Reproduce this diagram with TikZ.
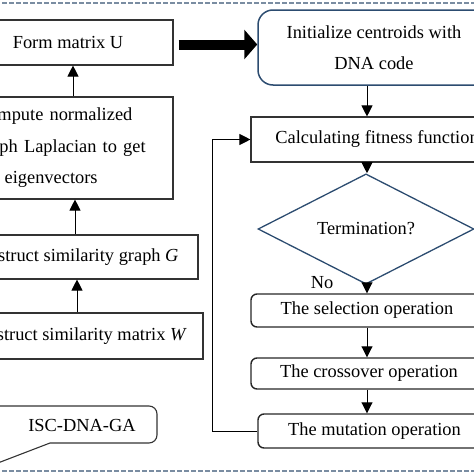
\documentclass[tikz,border=0pt]{standalone}
\usepackage{fontspec}
\setmainfont{Liberation Serif}
\usetikzlibrary{arrows.meta,shapes.geometric}
\definecolor{framegray}{HTML}{333333}
\definecolor{stepblue}{HTML}{2C4C70}
\definecolor{rulegray}{HTML}{7A8DA2}

\begin{document}
\begin{tikzpicture}[x=1pt,y=-1pt,
    font=\fontsize{18.4}{31.5}\selectfont,
    box/.style={draw=framegray,line width=1.1pt,inner sep=0pt,align=center},
    opbox/.style={draw=black!85,line width=1.4pt,rounded corners=6pt,inner sep=0pt},
    flow/.style={-{Triangle[width=11pt,length=11pt]},line width=0.9pt},
    bigarrow/.style={line width=10pt,-{Triangle[width=29pt,length=13pt]}}]
  \useasboundingbox (0,0) rectangle (474,474);
  \clip (0,0) rectangle (474,474);
  % dashed frame lines
  \draw[rulegray,line width=2.6pt,dash pattern=on 5pt off 2pt]
    (-5,3) -- (480,3) (-5,471) -- (480,471);
  % left column
  \node[box,minimum width=210pt,minimum height=45pt] (U) at (68,42.5) {Form matrix U};
  \node[box,minimum width=204pt,minimum height=102pt,text width=190pt,align=left] (lap)
    at (71,148) {Compute normalized\\graph Laplacian to get\\the eigenvectors};
  \node[box,minimum width=250pt,minimum height=44pt] (gph) at (73,257)
    {Construct similarity graph \textit{G}};
  \node[box,minimum width=253pt,minimum height=46pt] (W) at (76.5,336)
    {Construct similarity matrix \textit{W}};
  \draw[framegray,line width=1.1pt] (-20,406) [rounded corners=8pt]-- (157,406) -- (157,443)
    [sharp corners]-- (50,443) -- (-10,466);
  \node (tag) at (82,425) {ISC-DNA-GA};
  % right column
  \node[draw=stepblue,line width=1.5pt,rounded corners=15pt,minimum width=232pt,
    minimum height=75pt,align=center] (init) at (374,47.5) {Initialize centroids with\\DNA code};
  \node[box,minimum width=252pt,minimum height=45pt] (fit) at (377,139.5)
    {Calculating fitness function};
  \node[diamond,draw=stepblue,line width=1.3pt,minimum width=216pt,minimum height=66pt,
    inner sep=0pt] (term) at (366,229) {Termination?};
  \node (no) at (322,283) {No};
  \node[opbox,minimum width=232pt,minimum height=33pt] (sel) at (367,310.5)
    {The selection operation};
  \node[opbox,minimum width=236pt,minimum height=31pt] (cro) at (369,373.5)
    {The crossover operation};
  \node[opbox,minimum width=233pt,minimum height=34pt] (mut) at (374.5,431)
    {The mutation operation};
  % connectors
  \draw[flow] ([xshift=0.5pt]W.north) -- ([xshift=4pt]gph.south);
  \draw[flow] ([xshift=2pt]gph.north) -- ([xshift=4pt]lap.south);
  \draw[flow] ([xshift=2pt]lap.north) -- ([xshift=5pt]U.south);
  \draw[bigarrow] ([shift={(5pt,-2pt)}]U.east) -- ([yshift=3pt]init.west);
  \draw[flow] ([xshift=-7pt]init.south) -- ([xshift=-10pt]fit.north);
  \draw[flow] ([xshift=-10pt]fit.south) -- ([xshift=1pt]term.north);
  \draw[flow] ([xshift=1pt]term.south) -- (sel.north);
  \draw[flow] (sel.south) -- ([xshift=-2pt]cro.north);
  \draw[flow] ([xshift=-2pt]cro.south) -- ([xshift=-7.5pt]mut.north);
  \draw[flow] (mut.west) -- ++(-45,0) |- (fit.west);
\end{tikzpicture}
\end{document}
